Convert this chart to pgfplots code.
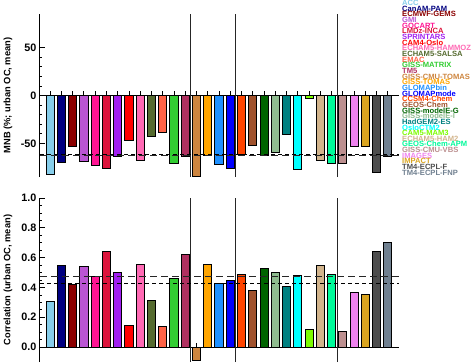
\documentclass[border=0pt]{standalone}
\usepackage{pgfplots}
\pgfplotsset{compat=1.18}
\usepackage{fontspec}
\setmainfont{Liberation Sans}
\definecolor{c1}{RGB}{135,206,235}
\definecolor{c2}{RGB}{0,0,128}
\definecolor{c3}{RGB}{139,0,0}
\definecolor{c4}{RGB}{186,85,211}
\definecolor{c5}{RGB}{255,20,147}
\definecolor{c6}{RGB}{220,20,60}
\definecolor{c7}{RGB}{160,32,240}
\definecolor{c8}{RGB}{255,0,0}
\definecolor{c9}{RGB}{255,105,180}
\definecolor{c10}{RGB}{85,107,47}
\definecolor{c11}{RGB}{255,99,71}
\definecolor{c12}{RGB}{50,205,50}
\definecolor{c13}{RGB}{176,48,96}
\definecolor{c14}{RGB}{205,133,63}
\definecolor{c15}{RGB}{255,165,0}
\definecolor{c16}{RGB}{30,144,255}
\definecolor{c17}{RGB}{0,0,255}
\definecolor{c18}{RGB}{255,69,0}
\definecolor{c19}{RGB}{160,82,45}
\definecolor{c20}{RGB}{0,100,0}
\definecolor{c21}{RGB}{143,188,143}
\definecolor{c22}{RGB}{0,128,128}
\definecolor{c23}{RGB}{0,255,255}
\definecolor{c24}{RGB}{124,252,0}
\definecolor{c25}{RGB}{210,180,140}
\definecolor{c26}{RGB}{0,250,154}
\definecolor{c27}{RGB}{188,143,143}
\definecolor{c28}{RGB}{238,130,238}
\definecolor{c29}{RGB}{218,165,32}
\definecolor{c30}{RGB}{77,77,77}
\definecolor{c31}{RGB}{112,128,144}
\pgfplotsset{
  B/.style={ybar, bar width=0.72, bar shift=0pt, fill=#1, draw=black, line width=0.8pt},
  sep/.style={black!85, line width=1pt, sharp plot, no marks},
  longd/.style={black!85, line width=1pt, dash pattern=on 7pt off 4pt, sharp plot, no marks},
  shortd/.style={black, line width=1pt, dash pattern=on 4pt off 3pt, sharp plot, no marks},
  common/.style={
    scale only axis, width=359pt,
    xmin=0.1, xmax=32,
    axis y line*=left, axis x line*=middle,
    xtick={1,...,31}, xticklabels={},
    xtick align=inside, ytick align=inside,
    major tick length=4.5pt, minor tick length=2.5pt,
    every tick/.style={black, line width=0.8pt},
    axis line style={black, line width=1pt},
    /pgf/number format/assume math mode=true,
    yticklabel style={font=\bfseries\fontsize{10.8}{12}\selectfont},
    ylabel style={at={(axis description cs:0,0.5)}, yshift=32pt, anchor=center, font=\bfseries\fontsize{9.3}{11}\selectfont},
    clip=true,
  },
}
\begin{document}
\begin{tikzpicture}
\useasboundingbox (0,0) rectangle (474pt,-364pt);
% ---------- top panel: MNB ----------
\begin{axis}[common, height=163pt, at={(40pt,-177pt)}, anchor=south west,
  ymin=-85, ymax=85, ytick={-50,0,50}, minor y tick num=4,
  ylabel={MNB (\%; urban OC, mean)}]
\addplot[B=c1] coordinates {(1,-82.2)};
\addplot[B=c2] coordinates {(2,-70)};
\addplot[B=c3] coordinates {(3,-52.7)};
\addplot[B=c4] coordinates {(4,-69)};
\addplot[B=c5] coordinates {(5,-72.5)};
\addplot[B=c6] coordinates {(6,-76)};
\addplot[B=c7] coordinates {(7,-63)};
\addplot[B=c8] coordinates {(8,-47)};
\addplot[B=c9] coordinates {(9,-68)};
\addplot[B=c10] coordinates {(10,-42.8)};
\addplot[B=c11] coordinates {(11,-38.4)};
\addplot[B=c12] coordinates {(12,-70.7)};
\addplot[B=c13] coordinates {(13,-63)};
\addplot[B=c14] coordinates {(14,-84)};
\addplot[B=c15] coordinates {(15,-62.5)};
\addplot[B=c16] coordinates {(16,-71.7)};
\addplot[B=c17] coordinates {(17,-76)};
\addplot[B=c18] coordinates {(18,-61.7)};
\addplot[B=c19] coordinates {(19,-51.6)};
\addplot[B=c20] coordinates {(20,-62.8)};
\addplot[B=c21] coordinates {(21,-59)};
\addplot[B=c22] coordinates {(22,-40.4)};
\addplot[B=c23] coordinates {(23,-76.6)};
\addplot[B=c24] coordinates {(24,-3.5)};
\addplot[B=c25] coordinates {(25,-68)};
\addplot[B=c26] coordinates {(26,-70.7)};
\addplot[B=c27] coordinates {(27,-70.7)};
\addplot[B=c28] coordinates {(28,-53)};
\addplot[B=c29] coordinates {(29,-53)};
\addplot[B=c30] coordinates {(30,-80.5)};
\addplot[B=c31] coordinates {(31,-63)};
\addplot[sep] coordinates {(13.5,-85) (13.5,85)};
\addplot[sep] coordinates {(17.5,-85) (17.5,85)};
\addplot[sep] coordinates {(26.5,-85) (26.5,85)};
\addplot[longd] coordinates {(0.1,-63) (32,-63)};
\addplot[shortd] coordinates {(0.1,-62) (32,-62)};
\end{axis}
% ---------- bottom panel: correlation ----------
\begin{axis}[common, height=164pt, at={(40pt,-362pt)}, anchor=south west,
  ymin=-0.1, ymax=1.0, ytick={0,0.2,0.4,0.6,0.8,1.0}, minor y tick num=3,
  yticklabel style={/pgf/number format/.cd, fixed, fixed zerofill, precision=1},
  ylabel={Correlation (urban OC, mean)}]
\addplot[B=c1] coordinates {(1,0.305)};
\addplot[B=c2] coordinates {(2,0.549)};
\addplot[B=c3] coordinates {(3,0.418)};
\addplot[B=c4] coordinates {(4,0.54)};
\addplot[B=c5] coordinates {(5,0.475)};
\addplot[B=c6] coordinates {(6,0.645)};
\addplot[B=c7] coordinates {(7,0.502)};
\addplot[B=c8] coordinates {(8,0.147)};
\addplot[B=c9] coordinates {(9,0.553)};
\addplot[B=c10] coordinates {(10,0.316)};
\addplot[B=c11] coordinates {(11,0.138)};
\addplot[B=c12] coordinates {(12,0.458)};
\addplot[B=c13] coordinates {(13,0.622)};
\addplot[B=c14] coordinates {(14,-0.087)};
\addplot[B=c15] coordinates {(15,0.553)};
\addplot[B=c16] coordinates {(16,0.429)};
\addplot[B=c17] coordinates {(17,0.449)};
\addplot[B=c18] coordinates {(18,0.487)};
\addplot[B=c19] coordinates {(19,0.382)};
\addplot[B=c20] coordinates {(20,0.531)};
\addplot[B=c21] coordinates {(21,0.5)};
\addplot[B=c22] coordinates {(22,0.407)};
\addplot[B=c23] coordinates {(23,0.48)};
\addplot[B=c24] coordinates {(24,0.12)};
\addplot[B=c25] coordinates {(25,0.551)};
\addplot[B=c26] coordinates {(26,0.487)};
\addplot[B=c27] coordinates {(27,0.107)};
\addplot[B=c28] coordinates {(28,0.364)};
\addplot[B=c29] coordinates {(29,0.353)};
\addplot[B=c30] coordinates {(30,0.642)};
\addplot[B=c31] coordinates {(31,0.70)};
\addplot[sep] coordinates {(13.5,-0.1) (13.5,1.0)};
\addplot[sep] coordinates {(17.5,-0.1) (17.5,1.0)};
\addplot[sep] coordinates {(26.5,-0.1) (26.5,1.0)};
\addplot[longd] coordinates {(0.1,0.475) (32,0.475)};
\addplot[shortd] coordinates {(0.1,0.427) (32,0.427)};
\end{axis}
% ---------- model legend ----------
\foreach \name/\col [count=\i from 0] in {
  ACC/c1, CanAM-PAM/c2, ECMWF-GEMS/c3, GMI/c4, GOCART/c5, LMDz-INCA/c6,
  SPRINTARS/c7, CAM4-Oslo/c8, ECHAM5-HAMMOZ/c9, ECHAM5-SALSA/c10, EMAC/c11,
  GISS-MATRIX/c12, TM5/c13, GISS-CMU-TOMAS/c14, GISS-TOMAS/c15, GLOMAPbin/c16,
  GLOMAPmode/c17, CCSM4-Chem/c18, GEOS-Chem/c19, GISS-modelE-G/c20,
  GISS-modelE-I/c21, HadGEM2-ES/c22, OsloCTM2/c23, CAM5-MAM3/c24,
  ECHAM5-HAM2/c25, GEOS-Chem-APM/c26, GISS-CMU-VBS/c27, IMAGES/c28,
  IMPACT/c29, TM4-ECPL-F/c30, TM4-ECPL-FNP/c31}
{
  \node[anchor=west, inner sep=0pt, text=\col, font=\bfseries\fontsize{7.6}{8}\selectfont]
    at (402pt, {-3pt-\i*5.65pt}) {\name};
}
\end{tikzpicture}
\end{document}
